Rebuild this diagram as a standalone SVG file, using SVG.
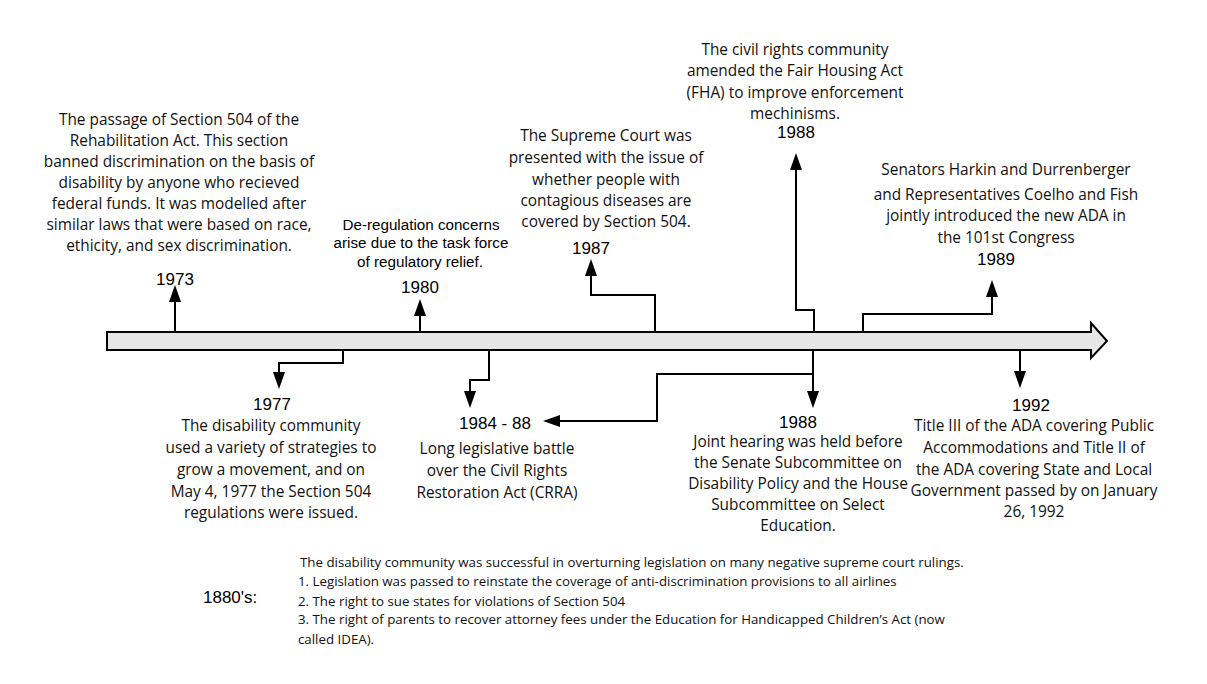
<svg xmlns="http://www.w3.org/2000/svg" width="1207" height="684" viewBox="0 0 1207 684">
<style>
.d{font-family:"Open Sans","DejaVu Sans",sans-serif;font-size:15.4px;fill:#111;text-anchor:middle}
.y{font-family:"Liberation Sans",Arial,sans-serif;font-size:17px;fill:#000;text-anchor:middle}
.a{font-family:"Liberation Sans",Arial,sans-serif;font-size:15.2px;fill:#000;text-anchor:middle}
.n{font-family:"Open Sans","DejaVu Sans",sans-serif;font-size:13.3px;fill:#111}
.c{fill:none;stroke:#000;stroke-width:2;marker-end:url(#h)}
</style>
<defs>
<marker id="h" markerUnits="userSpaceOnUse" viewBox="0 0 17 12" refX="0" refY="6" markerWidth="17" markerHeight="12" orient="auto">
<path d="M0 0L17 6L0 12Z" fill="#000"/>
</marker>
</defs>
<rect width="1207" height="684" fill="#fff"/>
<g id="timeline">
<polygon points="107,332 1091,332 1091,323 1107,341 1091,358 1091,350 107,350" fill="#e6e6e6" stroke="#000" stroke-width="2" stroke-linejoin="miter"/>
</g>
<g id="connectors">
<path class="c" d="M175 332V302"/>
<path class="c" d="M420 332V316"/>
<path class="c" d="M343 350V363H279V372"/>
<path class="c" d="M489 350V380H470V391"/>
<path class="c" d="M655 332V295H591V276"/>
<path class="c" d="M814 332V310H796V170"/>
<path class="c" d="M863 332V314H992V297"/>
<path class="c" d="M813 350V391"/>
<path class="c" d="M813 374H657V421H560"/>
<path class="c" d="M1020 350V371"/>
</g>
<g id="n1973">
<text class="d" x="179" y="125">The passage of Section 504 of the</text>
<text class="d" x="179" y="146">Rehabilitation Act. This section</text>
<text class="d" x="179" y="167">banned discrimination on the basis of</text>
<text class="d" x="179" y="188">disability by anyone who recieved</text>
<text class="d" x="179" y="209">federal funds. It was modelled after</text>
<text class="d" x="179" y="230">similar laws that were based on race,</text>
<text class="d" x="179" y="251">ethicity, and sex discrimination.</text>
<text class="y" x="175" y="285">1973</text>
</g>
<g id="n1980">
<text class="a" x="421" y="230">De-regulation concerns</text>
<text class="a" x="421" y="248">arise due to the task force</text>
<text class="a" x="420" y="267">of  regulatory relief.</text>
<text class="y" x="420" y="293">1980</text>
</g>
<g id="n1977">
<text class="y" x="272" y="410">1977</text>
<text class="d" x="271" y="431">The disability community</text>
<text class="d" x="271" y="453">used a variety of strategies to</text>
<text class="d" x="271" y="475">grow a movement, and on</text>
<text class="d" x="271" y="497">May 4, 1977 the Section 504</text>
<text class="d" x="271" y="518">regulations were issued.</text>
</g>
<g id="n1984">
<text class="y" x="495" y="429">1984 - 88</text>
<text class="d" x="497" y="454">Long legislative battle</text>
<text class="d" x="497" y="476">over the Civil Rights</text>
<text class="d" x="497" y="498">Restoration Act (CRRA)</text>
</g>
<g id="n1987">
<text class="d" x="606" y="141">The Supreme Court was</text>
<text class="d" x="606" y="163">presented with the issue of</text>
<text class="d" x="606" y="185">whether people with</text>
<text class="d" x="606" y="206">contagious diseases are</text>
<text class="d" x="606" y="227">covered by Section 504.</text>
<text class="y" x="591" y="254">1987</text>
</g>
<g id="n1988a">
<text class="d" x="795" y="55">The civil rights community</text>
<text class="d" x="795" y="76">amended the Fair Housing Act</text>
<text class="d" x="795" y="98">(FHA) to improve enforcement</text>
<text class="d" x="795" y="119">mechinisms.</text>
<text class="y" x="796" y="138">1988</text>
</g>
<g id="n1989">
<text class="d" x="1006" y="175">Senators Harkin and Durrenberger</text>
<text class="d" x="1006" y="200">and Representatives Coelho and Fish</text>
<text class="d" x="1006" y="221">jointly introduced the new ADA in</text>
<text class="d" x="1006" y="243">the 101st Congress</text>
<text class="y" x="996" y="265">1989</text>
</g>
<g id="n1988b">
<text class="y" x="798" y="428">1988</text>
<text class="d" x="798" y="447">Joint hearing was held before</text>
<text class="d" x="798" y="468">the Senate Subcommittee on</text>
<text class="d" x="798" y="489">Disability Policy and the House</text>
<text class="d" x="798" y="510">Subcommittee on Select</text>
<text class="d" x="798" y="531">Education.</text>
</g>
<g id="n1992">
<text class="y" x="1031" y="411">1992</text>
<text class="d" x="1034" y="431">Title III of the ADA covering Public</text>
<text class="d" x="1034" y="453">Accommodations and Title II of</text>
<text class="d" x="1034" y="475">the ADA covering State and Local</text>
<text class="d" x="1034" y="496">Government passed by on January</text>
<text class="d" x="1034" y="517">26, 1992</text>
</g>
<g id="n1880s">
<text class="y" x="203" y="603" style="text-anchor:start">1880's:</text>
<text class="n" x="300" y="567">The disability community was successful in overturning legislation on many negative supreme court rulings.</text>
<text class="n" x="298" y="586">1. Legislation was passed to reinstate the coverage of anti-discrimination provisions to all airlines</text>
<text class="n" x="298" y="606">2. The right to sue states for violations of Section 504</text>
<text class="n" x="298" y="624">3. The right of parents to recover attorney fees under the Education for Handicapped Children’s Act (now</text>
<text class="n" x="298" y="644">called IDEA).</text>
</g>
</svg>
